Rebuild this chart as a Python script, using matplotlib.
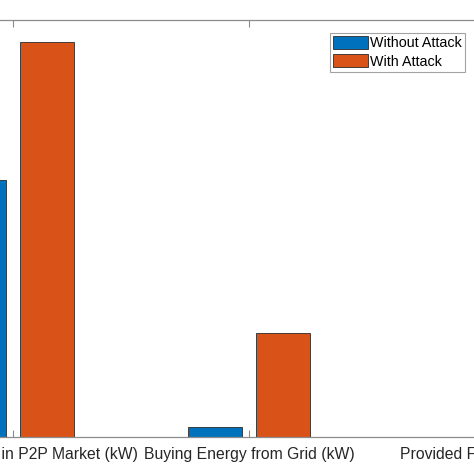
import matplotlib
matplotlib.use("Agg")
import matplotlib.pyplot as plt
import numpy as np

categories = ["Energy Sharing in P2P Market (kW)", "Buying Energy from Grid (kW)", "Provided Flexibility (kW)"]
without_attack = [247.0, 9.6, 0.0]
with_attack = [379.0, 100.0, 0.0]
series_names = ["Without Attack", "With Attack"]

plt.rcParams['font.family'] = ['Liberation Sans', 'DejaVu Sans']

W = 474
fig = plt.figure(figsize=(4.74, 4.74), dpi=100)
# axes extends beyond the figure (cropped view)
x0_px, x1_px = -105, 603
ytop_px, ybot_px = 20, 437
ax = fig.add_axes([x0_px / W, (W - ybot_px) / W, (x1_px - x0_px) / W, (ybot_px - ytop_px) / W])

x = np.arange(1, len(categories) + 1)
bw = 0.23
off = 0.144
blue = '#0072BD'
orange = '#D95319'
ax.bar(x - off, without_attack, bw, color=blue, edgecolor='#2a2a2a', linewidth=0.6, label=series_names[0])
ax.bar(x + off, with_attack, bw, color=orange, edgecolor='#2a2a2a', linewidth=0.6, label=series_names[1])

ax.set_xlim(0.5, 3.5)
ax.set_ylim(0, 400)
ax.set_xticks(x)
ax.set_xticklabels(categories, fontsize=11.3, color='#262626')
ax.set_yticks([])
ax.tick_params(axis='x', direction='in', length=5, color='#8c8c8c', top=True, pad=7)
for s in ax.spines.values():
    s.set_color('#8c8c8c')
    s.set_linewidth(0.9)

leg = fig.legend(loc='upper right', bbox_to_anchor=(465 / W, 1 - 33 / W), fontsize=10.3,
                 frameon=True, fancybox=False, handlelength=2.4, handleheight=1.0,
                 handletextpad=0.2, labelspacing=0.3, borderpad=0.2, borderaxespad=0)
leg.get_frame().set_edgecolor('#8c8c8c')
leg.get_frame().set_linewidth(0.8)

fig.savefig("out.png", dpi=100)
